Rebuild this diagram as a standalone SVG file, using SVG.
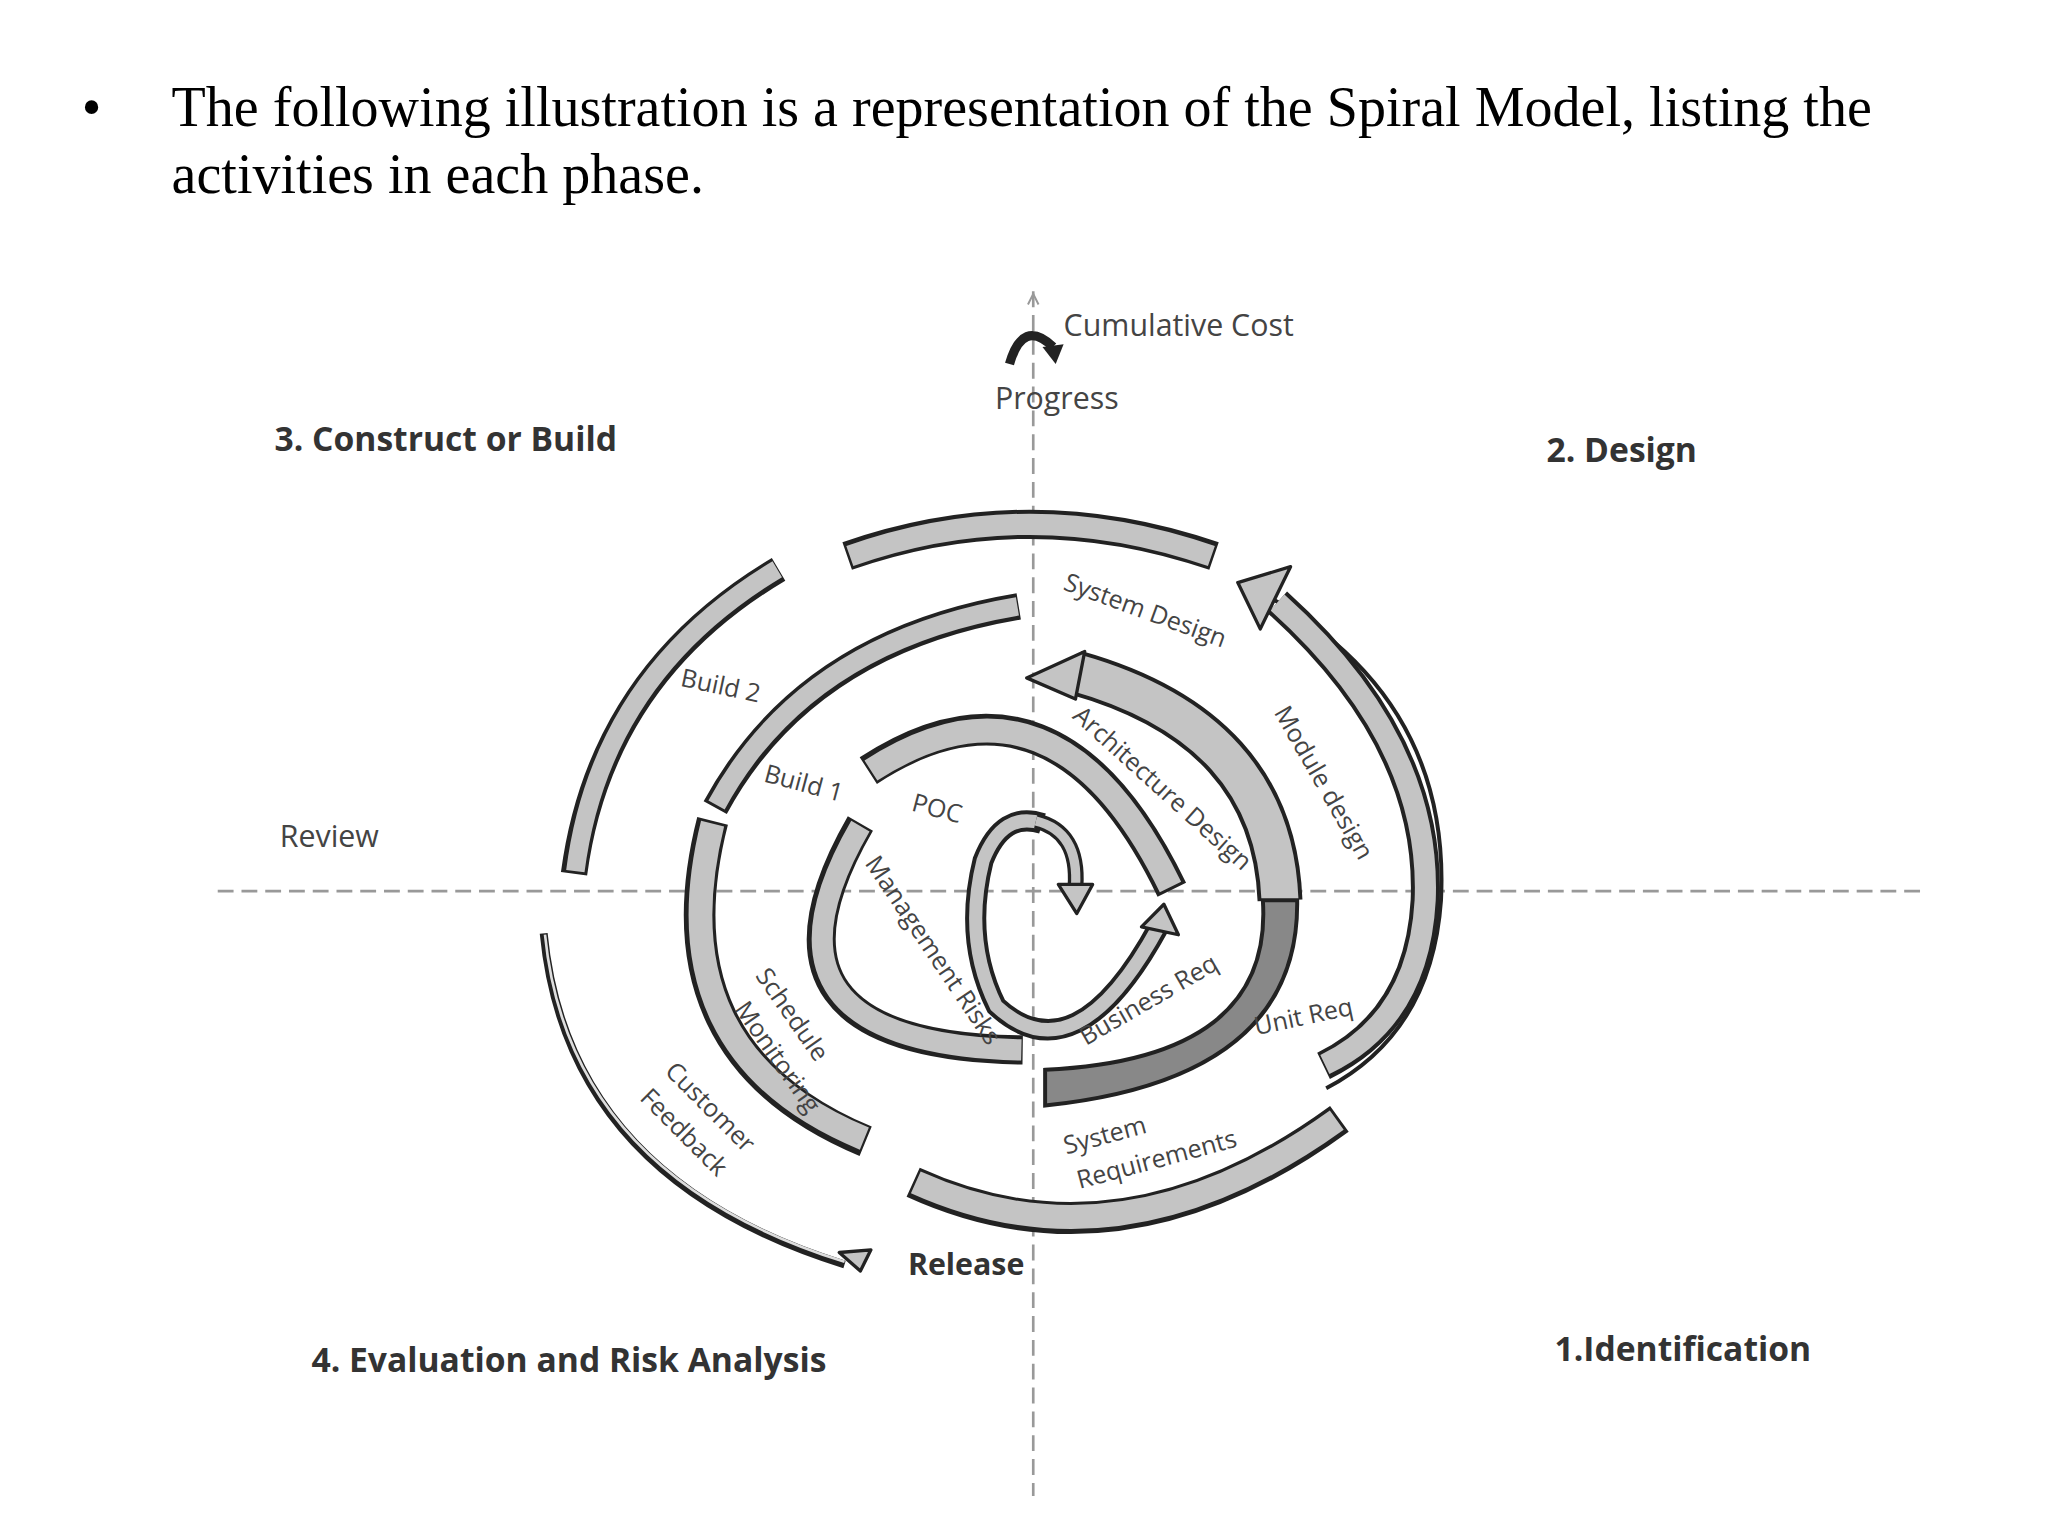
<svg xmlns="http://www.w3.org/2000/svg" width="2048" height="1536" viewBox="0 0 2048 1536">
<defs>
<style>
.t{font-family:"Liberation Serif",serif;font-size:42.5px;fill:#000}
.l{font-family:"Open Sans","DejaVu Sans",sans-serif;font-size:19px;fill:#444}
.h{font-family:"Open Sans","DejaVu Sans",sans-serif;font-size:25.5px;font-weight:bold;fill:#333}
.ax{stroke:#999;stroke-width:2;stroke-dasharray:12 6;fill:none}
.bo{fill:none;stroke:#222;stroke-linecap:butt}
.bi{fill:none;stroke:#c4c4c4;stroke-linecap:butt}
.ah{fill:#c4c4c4;stroke:#222;stroke-width:2.5;stroke-linejoin:round}
</style>
</defs>
<rect width="2048" height="1536" fill="#fff"/>
<g transform="scale(1.3196,1.324)">
<g id="title">
<text class="t" x="62" y="95">•</text>
<text class="t" x="130" y="95">The following illustration is a representation of the Spiral Model, listing the</text>
<text class="t" x="130" y="146">activities in each phase.</text>
</g>
<g id="axes">
<line class="ax" x1="783" y1="220" x2="783" y2="1130"/>
<line class="ax" x1="165" y1="673" x2="1460" y2="673"/>
<path d="M783,222 l-4,8 M783,222 l4,8" stroke="#999" stroke-width="1.5" fill="none"/>
</g>
<g id="labels">
<text class="l" x="806" y="254" style="font-size:23px">Cumulative Cost</text>
<text class="l" x="754" y="309" style="font-size:23px">Progress</text>
<text class="h" x="208" y="341">3. Construct or Build</text>
<text class="h" x="1172" y="349">2. Design</text>
<text class="l" x="212" y="640" style="font-size:23px">Review</text>
<text class="h" x="236" y="1036">4. Evaluation and Risk Analysis</text>
<text class="h" x="1178" y="1028">1.Identification</text>
<text class="h" x="688" y="963" style="font-size:23px">Release</text>
</g>
<g id="cost-arrow">
<path d="M765,275 Q775,240 798,262" fill="none" stroke="#222" stroke-width="7"/>
<path d="M790,262 L806,260 L800,275 Z" fill="#222"/>
</g>
<g id="connectors">
<path class="bo" stroke-width="22" d="M642,420 Q780,372 920,420"/>
<path class="bi" stroke-width="16" d="M644,420 Q780,372 918,420"/>
<path class="bo" stroke-width="20" d="M590,430 Q455,510 435,660"/>
<path class="bi" stroke-width="14" d="M589,430 Q455,510 436,658"/>
<path d="M412,705 Q430,890 640,955" fill="none" stroke="#222" stroke-width="6"/>
<path d="M413,706 Q431,888 640,953" fill="none" stroke="#ddd" stroke-width="2"/>
<path class="ah" d="M636,946 L660,944 L652,960 Z"/>
<path d="M945,442 Q1100,520 1092,680 Q1085,780 1005,822" fill="none" stroke="#222" stroke-width="3"/>
<path class="bo" stroke-width="22" d="M968,455 Q1085,560 1080,680 Q1075,770 1003,805"/>
<path class="bi" stroke-width="16" d="M968,455 Q1085,560 1080,680 Q1075,770 1004,804"/>
<path class="ah" d="M938,440 L978,428 L955,475 Z"/>
<path class="bo" stroke-width="24" d="M692,893 Q850,965 1015,845"/>
<path class="bi" stroke-width="18" d="M694,893 Q850,963 1013,846"/>
<path class="bo" stroke-width="20" d="M772,458 Q610,485 542,610"/>
<path class="bi" stroke-width="14" d="M771,458 Q610,485 543,608"/>
<path class="bo" stroke-width="24" d="M540,620 Q495,795 656,862"/>
<path class="bi" stroke-width="18" d="M540,622 Q497,795 655,860"/>
<path class="bo" stroke-width="24" d="M658,582 Q800,490 888,672"/>
<path class="bi" stroke-width="18" d="M660,582 Q800,492 887,670"/>
<path class="bo" stroke-width="22" d="M652,622 Q555,790 775,793"/>
<path class="bi" stroke-width="16" d="M652,624 Q557,788 774,793"/>
<path class="bo" stroke-width="34" d="M815,508 Q965,550 970,680"/>
<path class="bi" stroke-width="28" d="M815,508 Q965,550 970,680"/>
<path d="M957,680 Q965,800 792,808 L792,835 Q985,815 983,680 Z" fill="#888" stroke="#222" stroke-width="3"/>
<path class="ah" d="M778,512 L822,492 L815,528 Z"/>
<path d="M790,622 Q760,612 745,650 Q730,710 755,760 Q815,815 878,700" fill="none" stroke="#222" stroke-width="16"/>
<path d="M790,622 Q760,612 745,650 Q730,710 755,760 Q815,815 878,700" fill="none" stroke="#c4c4c4" stroke-width="10"/>
<path class="ah" d="M865,700 L882,683 L893,706 Z"/>
<path d="M785,620 Q818,628 815,670" fill="none" stroke="#222" stroke-width="12"/>
<path d="M785,620 Q818,628 815,670" fill="none" stroke="#c4c4c4" stroke-width="7"/>
<path class="ah" d="M802,668 L828,668 L816,690 Z"/>
</g>
<g id="band-labels">
<text class="l" transform="translate(805,445) rotate(20)">System Design</text>
<text class="l" transform="translate(812,542) rotate(42)">Architecture Design</text>
<text class="l" transform="translate(965,538) rotate(60)">Module design</text>
<text class="l" transform="translate(515,518) rotate(12)">Build 2</text>
<text class="l" transform="translate(578,590) rotate(15)">Build 1</text>
<text class="l" transform="translate(690,612) rotate(15)">POC</text>
<text class="l" transform="translate(655,652) rotate(56)">Management Risks</text>
<text class="l" transform="translate(823,790) rotate(-30)">Business Req</text>
<text class="l" transform="translate(952,782) rotate(-12)">Unit Req</text>
<text class="l" transform="translate(572,737) rotate(55)">Schedule</text>
<text class="l" transform="translate(556,762) rotate(55)">Monitoring</text>
<text class="l" transform="translate(503,810) rotate(45)">Customer</text>
<text class="l" transform="translate(484,830) rotate(45)">Feedback</text>
<text class="l" transform="translate(808,872) rotate(-15)">System</text>
<text class="l" transform="translate(818,898) rotate(-15)">Requirements</text>
</g>
</g>
</svg>
